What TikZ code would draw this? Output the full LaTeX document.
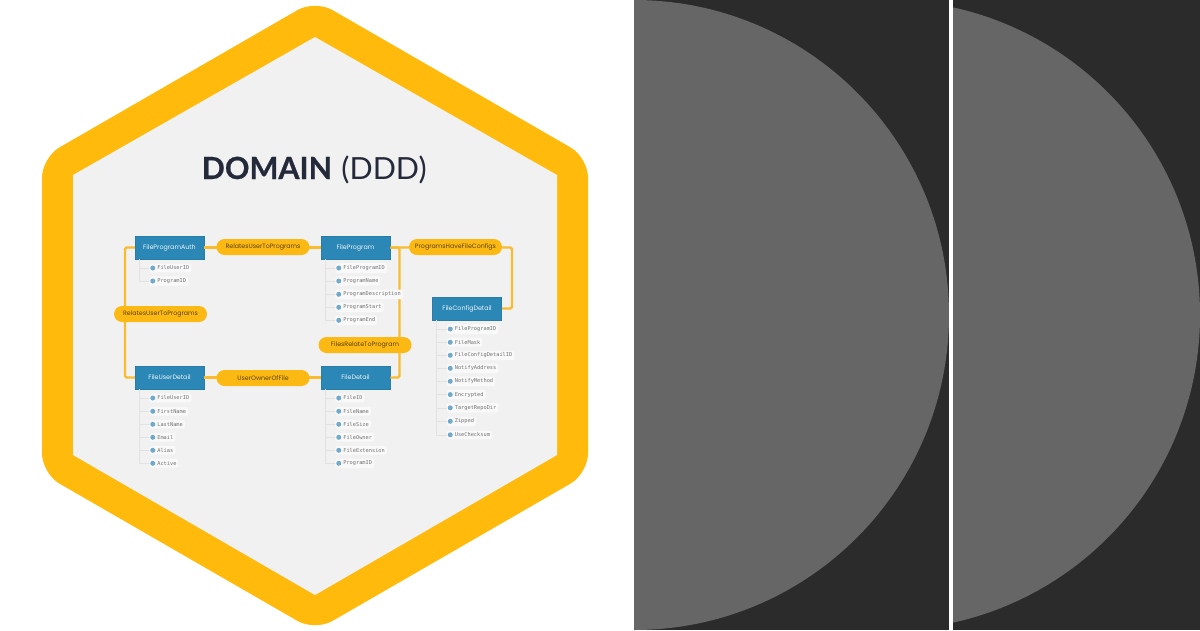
\documentclass[tikz,border=0pt]{standalone}
\usepackage{fontspec}
\setmainfont{Poppins}
\newfontfamily\titlefont[BoldFeatures={FakeBold=0.5}]{Lato}
\newfontfamily\attrfont{DejaVu Sans Mono}
\definecolor{hexgold}{HTML}{FFBA0C}
\definecolor{hexin}{HTML}{F1F1F1}
\definecolor{boxblue}{HTML}{2B87B5}
\definecolor{boxedge}{HTML}{2A7CA8}
\definecolor{pillfill}{HTML}{FDB913}
\definecolor{linkcol}{HTML}{F8BC2E}
\definecolor{darkbg}{HTML}{2B2B2B}
\definecolor{arcgray}{HTML}{666666}
\definecolor{titlecol}{HTML}{252A3A}
\definecolor{dotblue}{HTML}{6FA9CC}
\definecolor{treegray}{HTML}{E2E2E2}
\tikzset{
  x=1pt,y=-1pt,
  entity/.style={draw=boxedge,line width=.5pt,fill=boxblue,text=white!92!boxblue,minimum width=69pt,minimum height=23pt,inner sep=0pt,font=\fontsize{6.35}{8}\selectfont},
  relation/.style={fill=pillfill,rounded corners=8pt,minimum width=93pt,minimum height=16pt,inner sep=0pt,text=black!65!pillfill,font=\fontsize{6.3}{8}\selectfont},
  link/.style={draw=linkcol,line width=2.2pt,rounded corners=1.5pt},
  treeline/.style={draw=treegray,line width=.6pt},
  attrdot/.style={circle,fill=dotblue,minimum size=5pt,inner sep=0pt},
  attrchip/.style={anchor=west,fill=white!60!hexin,rounded corners=1.5pt,inner xsep=2pt,inner ysep=2.2pt,text=black!55,font=\attrfont\fontsize{5.3}{6}\selectfont},
}
% #1 box name, #2 list of row y / text
\newcommand{\attrlist}[2]{%
  \foreach \ry/\rt [count=\ri] in {#2}{
    \path (#1.south west) ++(18,0) coordinate (#1dx\ri);
    \coordinate (#1row\ri) at (#1dx\ri |- 0,\ry);
    \draw[treeline] ([xshift=4.5pt]#1.south west) |- (#1row\ri);
    \node[attrchip] (#1chip\ri) at ([xshift=-3.5pt]#1row\ri) {\hspace{5.9pt}\rt};
    \node[attrdot] (#1dot\ri) at (#1row\ri) {};
  }%
}
\begin{document}
\begin{tikzpicture}
\useasboundingbox (0,0) rectangle (1200,630);
\fill[white] (0,0) rectangle (634,630);
\fill[darkbg] (634,0) rectangle (1200,630);
\begin{scope}
\clip (634,0) rectangle (949,630);
\fill[arcgray] (634,315) circle[radius=315];
\end{scope}
\fill[white] (949,0) rectangle (953,630);
\begin{scope}
\clip (953,0) rectangle (1200,630);
\fill[arcgray] (885,315) circle[radius=315];
\end{scope}
% hexagon
\fill[hexgold,rounded corners=20pt] (315,0) -- (588,157.5) -- (588,473.5) -- (315,631) -- (42,473.5) -- (42,157.5) -- cycle;
\fill[hexin] (315,37) -- (557,175) -- (557,455) -- (315,595) -- (73,455) -- (73,175) -- cycle;
% title
\node[anchor=base west,inner sep=0pt,text=titlecol,font=\titlefont\fontsize{30.5}{32}\selectfont] (title) at (201.5,179) {\textbf{DOMAIN}\hspace{1.5pt} (DDD)};
% nodes
\node[entity] (auth) at (169.5,247.5) {FileProgramAuth};
\node[entity] (prog) at (355.5,247.5) {FileProgram};
\node[entity] (conf) at (467,308.5) {FileConfigDetail};
\node[entity] (user) at (169.5,377.5) {FileUserDetail};
\node[entity] (file) at (355.5,377.5) {FileDetail};
\coordinate (leftbus) at (125,313.5);
\coordinate (rightbus) at (512,247.5);
\coordinate (midbus) at (399.5,345);
% connectors behind pills
\draw[link] (auth.west) -| (leftbus) |- (user.west);
\draw[link] (auth.east) -- (prog.west);
\draw[link] (user.east) -- (file.west);
\draw[link] (prog.east) -- (rightbus) |- (conf.east);
\draw[link] (prog.east) -| (midbus) |- (file.east);
% relations
\node[relation] (r1) at (263,247) {RelatesUserToPrograms};
\node[relation] (r2) at (160.5,314) {RelatesUserToPrograms};
\node[relation] (r3) at (455.5,247) {ProgramsHaveFileConfigs};
\node[relation] (r4) at (365,345) {FilesRelateToProgram};
\node[relation] (r5) at (263,378) {UserOwnerOfFile};
% attributes
\attrlist{auth}{268/FileUserID,281/ProgramID}
\attrlist{prog}{268/FileProgramID,281/ProgramName,294.3/ProgramDescription,307.3/ProgramStart,320.3/ProgramEnd}
\attrlist{conf}{329/FileProgramID,342.3/FileMask,355.3/FileConfigDetailID,368.3/NotifyAddress,381.3/NotifyMethod,394.6/Encrypted,407.8/TargetRepoDir,421.3/Zipped,434.8/UseChecksum}
\attrlist{user}{398/FileUserID,411.3/FirstName,424.3/LastName,437.3/Email,450.3/Alias,463.3/Active}
\attrlist{file}{398/FileID,411.3/FileName,424.3/FileSize,437.3/FileOwner,450.3/FileExtension,463.3/ProgramID}
\end{tikzpicture}
\end{document}
